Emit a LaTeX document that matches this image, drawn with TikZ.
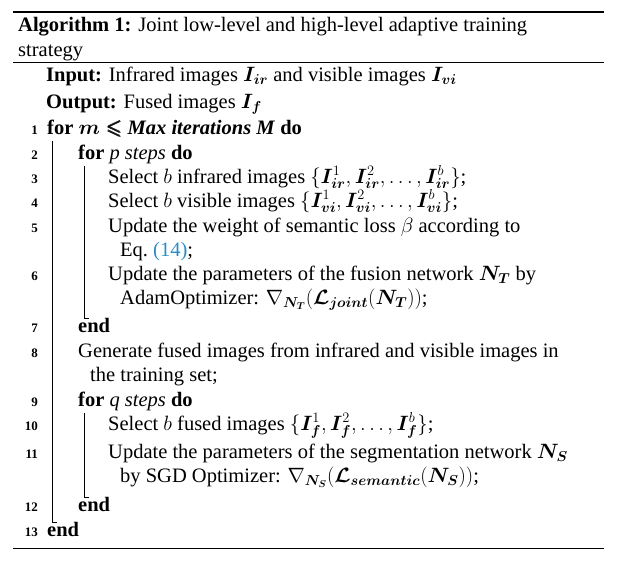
\documentclass[tikz,border=0pt]{standalone}
\usepackage{amsmath,amssymb,bm}
\usepackage{fontspec}
\setmainfont{Liberation Serif}
\definecolor{reflink}{RGB}{40,140,200}
\begin{document}
\begin{tikzpicture}[x=1pt,y=-1pt,
  txt/.style={anchor=base west,inner sep=0pt,font=\fontsize{20.5}{24}\selectfont},
  num/.style={anchor=base east,inner sep=0pt,font=\fontsize{13}{15}\bfseries\selectfont},
  loopline/.style={line width=0.8pt}]
\useasboundingbox (0,0) rectangle (617,560);
\draw[line width=1.2pt] (13,12) -- (604,12);
\draw[line width=0.6pt] (13,62) -- (604,62);
\draw[line width=0.6pt] (13,548) -- (604,548);
\node[txt] (t1) at (18,31) {\textbf{Algorithm 1:} Joint low-level and high-level adaptive training};
\node[txt] (t2) at (18,56) {strategy};
\node[txt] (in) at (46,81) {\textbf{Input:} Infrared images $\bm{I}_{\bm{ir}}$ and visible images $\bm{I}_{\bm{vi}}$};
\node[txt] (out) at (46,108) {\textbf{Output:} Fused images $\bm{I}_{\bm{f}}$};
\node[txt] (l1) at (47,134) {\textbf{for} $\bm{m \leqslant}$ \textbf{\textit{Max iterations M}} \textbf{do}};
\node[txt] (l2) at (78,159) {\textbf{for} \textit{p steps} \textbf{do}};
\node[txt] (l3) at (108,183) {Select $b$ infrared images $\{\bm{I}_{\bm{ir}}^1,\bm{I}_{\bm{ir}}^2,\ldots,\bm{I}_{\bm{ir}}^b\}$;};
\node[txt] (l4) at (108,207) {Select $b$ visible images $\{\bm{I}_{\bm{vi}}^1,\bm{I}_{\bm{vi}}^2,\ldots,\bm{I}_{\bm{vi}}^b\}$;};
\node[txt] (l5) at (108,232) {Update the weight of semantic loss $\beta$ according to};
\node[txt] (l5b) at (120,256) {Eq.~\textcolor{reflink}{(14)};};
\node[txt] (l6) at (108,280) {Update the parameters of the fusion network $\bm{N_T}$ by};
\node[txt] (l6b) at (120,304) {AdamOptimizer: $\nabla_{\bm{N_T}}(\bm{\mathcal{L}}_{\bm{joint}}(\bm{N_T}))$;};
\node[txt] (l7) at (78,332) {\textbf{end}};
\node[txt] (l8) at (78,357) {Generate fused images from infrared and visible images in};
\node[txt] (l8b) at (90,381) {the training set;};
\node[txt] (l9) at (78,406) {\textbf{for} \textit{q steps} \textbf{do}};
\node[txt] (l10) at (108,430) {Select $b$ fused images $\{\bm{I}_{\bm{f}}^1,\bm{I}_{\bm{f}}^2,\ldots,\bm{I}_{\bm{f}}^b\}$;};
\node[txt] (l11) at (108,458) {Update the parameters of the segmentation network $\bm{N_S}$};
\node[txt] (l11b) at (120,482) {by SGD Optimizer: $\nabla_{\bm{N_S}}(\bm{\mathcal{L}}_{\bm{semantic}}(\bm{N_S}))$;};
\node[txt] (l12) at (78,511) {\textbf{end}};
\node[txt] (l13) at (47,536) {\textbf{end}};
\foreach \n/\y in {1/134,2/159,3/183,4/207,5/232,6/280,7/332,8/357,9/406,10/430,11/458,12/511,13/536}
  \node[num] (n\n) at (38,\y) {\n};
\draw[loopline] (52,141) -- (52,522) -- (57,522);
\draw[loopline] (84,166) -- (84,318) -- (89,318);
\draw[loopline] (84,413) -- (84,497) -- (89,497);
\end{tikzpicture}
\end{document}
